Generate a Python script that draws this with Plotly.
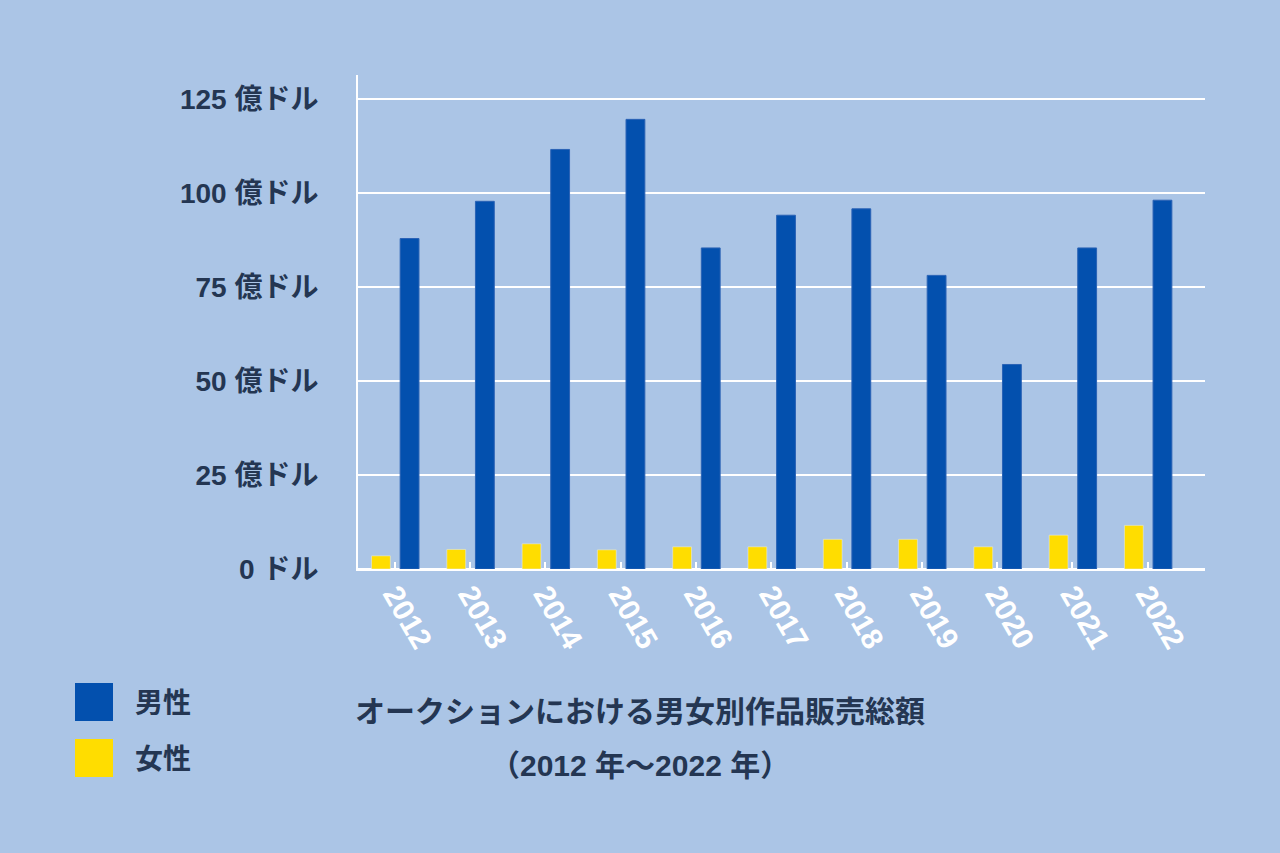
import plotly.graph_objects as go

years = ["2012", "2013", "2014", "2015", "2016", "2017", "2018", "2019", "2020", "2021", "2022"]
male = [87.9, 97.8, 111.6, 119.6, 85.4, 94.1, 95.8, 78.1, 54.4, 85.4, 98.1]
female = [3.5, 5.2, 6.7, 5.1, 5.9, 5.9, 7.9, 7.9, 5.9, 9.0, 11.6]
series_names = ["男性", "女性"]
y_tickvals = [0, 25, 50, 75, 100, 125]
y_ticktext = ["0 ドル", "25 億ドル", "50 億ドル", "75 億ドル", "100 億ドル", "125 億ドル"]
title_line1 = "オークションにおける男女別作品販売総額"
title_line2 = "（2012 年～2022 年）"

BG = "#abc5e6"
BLUE = "#0350ae"
YELLOW = "#ffdd00"
TEXT = "#243652"
FONT = "Liberation Sans, Noto Sans CJK JP, sans-serif"

W, H = 1280, 853
L, R, T, B = 358, 1205, 75, 569


def px_x(x):
    return (x - L) / (R - L)


def px_y(y):
    return (B - y) / (B - T)


fig = go.Figure()
fig.add_trace(go.Bar(
    x=years, y=female, name=series_names[1], marker_color=YELLOW,
    width=0.25, offset=-0.31, showlegend=False,
))
fig.add_trace(go.Bar(
    x=years, y=male, name=series_names[0], marker_color=BLUE,
    marker_line=dict(color="#2a62b5", width=1),
    width=0.25, offset=0.07, showlegend=False,
))

# legend drawn manually (large square swatches)
legend_items = [(series_names[0], BLUE, 683, 721, 703), (series_names[1], YELLOW, 739, 777, 759)]
for name, col, y0, y1, yc in legend_items:
    fig.add_shape(type="rect", xref="paper", yref="paper",
                  x0=px_x(75), x1=px_x(113), y0=px_y(y1), y1=px_y(y0),
                  fillcolor=col, line=dict(width=0))
    fig.add_annotation(xref="paper", yref="paper", x=px_x(133), y=px_y(yc),
                       xanchor="left", yanchor="middle", showarrow=False,
                       text=name, font=dict(family=FONT, size=28, color=TEXT, weight="bold"))

fig.add_annotation(xref="paper", yref="paper", x=px_x(640), y=px_y(711),
                   xanchor="center", yanchor="middle", showarrow=False,
                   text=title_line1, font=dict(family=FONT, size=30, color=TEXT, weight="bold"))
fig.add_annotation(xref="paper", yref="paper", x=px_x(640), y=px_y(765),
                   xanchor="center", yanchor="middle", showarrow=False,
                   text=title_line2, font=dict(family=FONT, size=30, color=TEXT, weight="bold"))

fig.update_layout(
    width=W, height=H,
    margin=dict(l=L, r=W - R, t=T, b=H - B, pad=0),
    paper_bgcolor=BG, plot_bgcolor=BG,
    barmode="overlay",
    showlegend=False,
    xaxis=dict(
        type="category",
        range=[-0.49, 10.76],
        showline=True, linecolor="white", linewidth=2,
        ticks="inside", ticklen=7, tickwidth=2, tickcolor="white",
        tickangle=60,
        tickfont=dict(family=FONT, size=30, color="white", weight="bold"),
        ticklabelstandoff=-6,
        showgrid=False,
        fixedrange=True,
    ),
    yaxis=dict(
        range=[0, 131.4],
        tickvals=y_tickvals, ticktext=y_ticktext,
        tickfont=dict(family=FONT, size=28, color=TEXT, weight="bold"),
        showline=True, linecolor="white", linewidth=2,
        showgrid=True, gridcolor="white", gridwidth=2,
        zeroline=True, zerolinecolor="white", zerolinewidth=2,
        ticks="", ticklabelstandoff=32,
        fixedrange=True,
    ),
)

fig.write_html("out.html", config={"displayModeBar": False})
